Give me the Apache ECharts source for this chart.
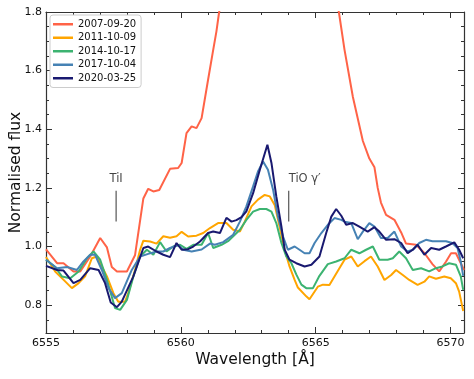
<!DOCTYPE html>
<html><head><meta charset="utf-8">
<script src="https://cdn.jsdelivr.net/npm/echarts@6/dist/echarts.min.js"></script>
<style>html,body{margin:0;padding:0;background:#fff}#c{width:474px;height:379px}</style>
</head><body><div id="c"></div>
<script>
const seriesNames = ['2007-09-20', '2011-10-09', '2014-10-17', '2017-10-04', '2020-03-25'];
const seriesColors = ['#FF6347', '#FFA500', '#3CB371', '#4682B4', '#191970'];

const wl2007 = [6555.00, 6555.41, 6555.65, 6556.02, 6556.27, 6556.64, 6557.01, 6557.26, 6557.44, 6557.63, 6558.00, 6558.30, 6558.61, 6558.79, 6558.98, 6559.20, 6559.60, 6559.90, 6560.03, 6560.21, 6560.40, 6560.58, 6560.77, 6561.01, 6561.20, 6561.32, 6561.42, 6561.8, 6562.5, 6563.2, 6564.0, 6564.8, 6565.5, 6565.86, 6566.07, 6566.38, 6566.75, 6566.99, 6567.18, 6567.30, 6567.42, 6567.61, 6567.92, 6568.17, 6568.35, 6568.72, 6569.03, 6569.33, 6569.58, 6569.83, 6570.02, 6570.20, 6570.44, 6570.5];
const fx2007 = [0.99, 0.943, 0.943, 0.915, 0.915, 0.966, 1.029, 0.997, 0.93, 0.915, 0.915, 0.97, 1.164, 1.197, 1.188, 1.193, 1.265, 1.268, 1.285, 1.387, 1.41, 1.404, 1.438, 1.569, 1.671, 1.734, 1.80, 1.95, 2.15, 2.3, 2.25, 2.1, 1.92, 1.80, 1.671, 1.51, 1.36, 1.30, 1.27, 1.20, 1.15, 1.108, 1.091, 1.048, 1.01, 1.006, 0.978, 0.94, 0.915, 0.948, 0.977, 0.977, 0.932, 0.92];

const wl2011 = [6555.00, 6555.34, 6555.71, 6555.96, 6556.21, 6556.45, 6556.70, 6556.89, 6557.07, 6557.26, 6557.50, 6557.68, 6557.93, 6558.05, 6558.30, 6558.49, 6558.61, 6558.86, 6559.10, 6559.35, 6559.60, 6559.84, 6560.03, 6560.27, 6560.58, 6560.83, 6561.08, 6561.38, 6561.69, 6561.94, 6562.19, 6562.37, 6562.62, 6562.86, 6563.11, 6563.30, 6563.48, 6563.66, 6563.85, 6564.03, 6564.22, 6564.34, 6564.65, 6564.77, 6565.08, 6565.27, 6565.51, 6565.88, 6566.07, 6566.32, 6566.56, 6566.81, 6567.05, 6567.30, 6567.55, 6567.80, 6567.98, 6568.23, 6568.47, 6568.78, 6569.03, 6569.21, 6569.46, 6569.77, 6570.01, 6570.20, 6570.32, 6570.47];
const fx2011 = [0.964, 0.915, 0.881, 0.858, 0.875, 0.898, 0.96, 0.966, 0.932, 0.898, 0.841, 0.812, 0.812, 0.841, 0.92, 0.989, 1.02, 1.017, 1.01, 1.035, 1.03, 1.035, 1.05, 1.034, 1.037, 1.046, 1.063, 1.08, 1.08, 1.057, 1.051, 1.085, 1.137, 1.16, 1.176, 1.171, 1.142, 1.068, 0.989, 0.932, 0.886, 0.86, 0.83, 0.82, 0.863, 0.87, 0.869, 0.926, 0.955, 0.966, 0.932, 0.95, 0.966, 0.932, 0.886, 0.903, 0.92, 0.903, 0.886, 0.869, 0.88, 0.898, 0.89, 0.898, 0.892, 0.875, 0.846, 0.78];

const wl2014 = [6555.00, 6555.34, 6555.59, 6555.90, 6556.21, 6556.52, 6556.76, 6557.01, 6557.26, 6557.56, 6557.75, 6558.00, 6558.24, 6558.49, 6558.74, 6558.98, 6559.23, 6559.47, 6559.72, 6559.97, 6560.21, 6560.46, 6560.77, 6561.01, 6561.20, 6561.51, 6561.75, 6562.00, 6562.19, 6562.43, 6562.68, 6562.93, 6563.17, 6563.36, 6563.54, 6563.73, 6563.91, 6564.10, 6564.28, 6564.47, 6564.65, 6564.90, 6565.14, 6565.45, 6565.76, 6566.07, 6566.32, 6566.62, 6566.87, 6567.12, 6567.36, 6567.67, 6567.86, 6568.10, 6568.35, 6568.60, 6568.91, 6569.21, 6569.46, 6569.70, 6569.95, 6570.20, 6570.38, 6570.47];
const fx2014 = [0.955, 0.93, 0.898, 0.892, 0.915, 0.96, 0.983, 0.955, 0.886, 0.79, 0.784, 0.818, 0.898, 0.966, 0.989, 0.972, 1.015, 0.983, 1.0, 1.006, 0.992, 1.006, 1.006, 1.046, 0.995, 1.006, 1.018, 1.04, 1.057, 1.091, 1.119, 1.128, 1.128, 1.119, 1.08, 1.012, 0.966, 0.943, 0.905, 0.87, 0.858, 0.858, 0.9, 0.94, 0.949, 0.96, 0.989, 0.977, 0.989, 1.0, 0.955, 0.955, 0.96, 0.983, 0.96, 0.92, 0.926, 0.915, 0.926, 0.932, 0.943, 0.938, 0.898, 0.852];

const wl2017 = [6555.00, 6555.41, 6555.78, 6556.15, 6556.39, 6556.64, 6556.82, 6557.07, 6557.32, 6557.56, 6557.81, 6558.18, 6558.49, 6558.79, 6559.10, 6559.35, 6559.60, 6559.90, 6560.09, 6560.40, 6560.77, 6561.08, 6561.26, 6561.57, 6561.94, 6562.19, 6562.43, 6562.68, 6562.86, 6563.05, 6563.23, 6563.42, 6563.60, 6563.79, 6563.97, 6564.22, 6564.40, 6564.59, 6564.77, 6564.96, 6565.21, 6565.45, 6565.70, 6565.95, 6566.07, 6566.32, 6566.56, 6566.75, 6566.99, 6567.18, 6567.42, 6567.67, 6567.92, 6568.17, 6568.41, 6568.60, 6568.84, 6569.09, 6569.33, 6569.58, 6569.83, 6570.07, 6570.26, 6570.38, 6570.47];
const fx2017 = [0.955, 0.926, 0.93, 0.92, 0.949, 0.972, 0.972, 0.92, 0.858, 0.824, 0.841, 0.92, 0.966, 0.975, 0.983, 0.983, 0.995, 1.005, 0.989, 0.983, 0.99, 1.01, 1.006, 1.015, 1.04, 1.085, 1.137, 1.205, 1.256, 1.29, 1.262, 1.194, 1.102, 1.034, 0.989, 1.0, 0.989, 0.977, 0.977, 1.012, 1.046, 1.074, 1.097, 1.091, 1.085, 1.08, 1.025, 1.051, 1.08, 1.068, 1.029, 1.029, 1.051, 1.0, 0.983, 0.989, 1.012, 1.023, 1.018, 1.018, 1.018, 1.012, 0.995, 0.949, 0.90];

const wl2020 = [6555.00, 6555.41, 6555.65, 6556.02, 6556.27, 6556.64, 6556.95, 6557.19, 6557.40, 6557.63, 6557.81, 6558.24, 6558.61, 6558.79, 6559.10, 6559.35, 6559.60, 6559.84, 6560.03, 6560.27, 6560.46, 6560.71, 6561.01, 6561.20, 6561.45, 6561.69, 6561.88, 6562.06, 6562.25, 6562.43, 6562.68, 6562.93, 6563.21, 6563.36, 6563.54, 6563.73, 6563.85, 6564.03, 6564.28, 6564.59, 6564.84, 6565.14, 6565.39, 6565.58, 6565.76, 6565.95, 6566.13, 6566.38, 6566.62, 6566.93, 6567.18, 6567.36, 6567.61, 6567.92, 6568.17, 6568.41, 6568.60, 6568.78, 6569.03, 6569.28, 6569.58, 6569.83, 6570.14, 6570.32, 6570.47];
const fx2020 = [0.934, 0.92, 0.918, 0.875, 0.886, 0.926, 0.92, 0.875, 0.809, 0.793, 0.812, 0.898, 0.995, 1.0, 0.983, 0.972, 0.964, 1.012, 0.989, 0.991, 1.0, 1.017, 1.046, 1.051, 1.046, 1.098, 1.085, 1.09, 1.10, 1.12, 1.182, 1.262, 1.347, 1.285, 1.171, 1.068, 0.989, 0.955, 0.943, 0.932, 0.938, 0.966, 1.046, 1.102, 1.128, 1.105, 1.074, 1.08, 1.068, 1.051, 1.066, 1.051, 1.023, 1.025, 1.012, 0.977, 0.989, 1.006, 0.972, 0.995, 0.989, 1.0, 1.014, 0.989, 0.96];

const xMajorTicks = [6555, 6560, 6565, 6570];
const xMinorTicks = [6556, 6557, 6558, 6559, 6561, 6562, 6563, 6564, 6566, 6567, 6568, 6569, 6570];
const yMajorTicks = [0.8, 1.0, 1.2, 1.4, 1.6, 1.8];
const yMinorTicks = [0.75, 0.85, 0.9, 0.95, 1.05, 1.1, 1.15, 1.25, 1.3, 1.35, 1.45, 1.5, 1.55, 1.65, 1.7, 1.75];

const annoLabels = ['TiI', 'TiO γ′'];
const annoWl = [6557.6, 6564.0];
const annoLineFlux = [1.085, 1.19];
const annoTextFlux = [1.231, 1.231];

const wlList = [wl2007, wl2011, wl2014, wl2017, wl2020];
const fxList = [fx2007, fx2011, fx2014, fx2017, fx2020];

const FONT = 'DejaVu Sans';
const X_MIN = 6555, X_MAX = 6570.5, Y_MIN = 0.705, Y_MAX = 1.8;
const G = { left: 46, right: 10, top: 12, bottom: 46 };
const MAJ = 6, MIN_LEN = 3;
const lineSt = { color: '#333', width: 1.2 };
const NAME_ST = { fontFamily: FONT, fontSize: 15.5, color: '#111' };

function gridBox(l, r, t, b) {
  return { left: l, right: r, top: t, bottom: b, show: false, containLabel: false, outerBoundsMode: 'none' };
}
// grids: 0 main; 1/2 inset horizontally (y ticks); 3/4 inset vertically (x ticks)
const grids = [
  gridBox(G.left, G.right, G.top, G.bottom),
  gridBox(G.left + MAJ, G.right + MAJ, G.top, G.bottom),
  gridBox(G.left + MIN_LEN, G.right + MIN_LEN, G.top, G.bottom),
  gridBox(G.left, G.right, G.top + MAJ, G.bottom + MAJ),
  gridBox(G.left, G.right, G.top + MIN_LEN, G.bottom + MIN_LEN)
];

function frameAxis(kind, pos, labels) {
  const isX = kind === 'x';
  const ax = {
    gridIndex: 0, type: 'value', min: isX ? X_MIN : Y_MIN, max: isX ? X_MAX : Y_MAX, position: pos,
    axisLine: { show: true, lineStyle: lineSt }, splitLine: { show: false },
    axisTick: { show: false }, axisLabel: { show: false }
  };
  if (labels) {
    ax.axisLabel = {
      show: true, customValues: isX ? xMajorTicks : yMajorTicks, fontFamily: FONT, fontSize: 11, color: '#111',
      margin: isX ? 5 : 4, formatter: v => (isX ? String(v) : v.toFixed(1))
    };
    ax.name = isX ? 'Wavelength [Å]' : 'Normalised flux';
    ax.nameLocation = 'middle';
    ax.nameGap = isX ? 19 : 22;
    ax.nameMoveOverlap = false;
    if (!isX) ax.nameRotate = 90;
    ax.nameTextStyle = NAME_ST;
  }
  return ax;
}
// tick axis living on an inset grid: its outward ticks reach exactly back to the frame, i.e. they look like inside ticks
function tickAxis(kind, gridIndex, pos, ticks, len) {
  const isX = kind === 'x';
  return {
    gridIndex: gridIndex, type: 'value', min: isX ? X_MIN : Y_MIN, max: isX ? X_MAX : Y_MAX, position: pos,
    axisLine: { show: true, lineStyle: { color: 'rgba(0,0,0,0)', width: 0.5 } }, splitLine: { show: false },
    axisLabel: { show: true, customValues: ticks, color: 'rgba(0,0,0,0)', fontSize: 6, margin: 1 },
    axisTick: { show: true, inside: false, length: len, customValues: ticks, lineStyle: { color: '#333', width: 1 } }
  };
}
function hiddenAxis(gridIndex) {
  return { gridIndex: gridIndex, type: 'value', min: 0, max: 1, show: false };
}

const xAxes = [
  frameAxis('x', 'bottom', true),          // 0
  frameAxis('x', 'top', false),            // 1
  hiddenAxis(1),                           // 2
  hiddenAxis(2),                           // 3
  tickAxis('x', 3, 'bottom', xMajorTicks, MAJ),   // 4
  tickAxis('x', 3, 'top', xMajorTicks, MAJ),      // 5
  tickAxis('x', 4, 'bottom', xMinorTicks, MIN_LEN), // 6
  tickAxis('x', 4, 'top', xMinorTicks, MIN_LEN)     // 7
];
const yAxes = [
  frameAxis('y', 'left', true),            // 0
  frameAxis('y', 'right', false),          // 1
  tickAxis('y', 1, 'left', yMajorTicks, MAJ),     // 2
  tickAxis('y', 1, 'right', yMajorTicks, MAJ),    // 3
  tickAxis('y', 2, 'left', yMinorTicks, MIN_LEN), // 4
  tickAxis('y', 2, 'right', yMinorTicks, MIN_LEN),// 5
  hiddenAxis(3),                           // 6
  hiddenAxis(4)                            // 7
];

const series = seriesNames.map((n, i) => ({
  name: n, type: 'line', xAxisIndex: 0, yAxisIndex: 0,
  data: wlList[i].map((w, k) => [w, fxList[i][k]]),
  symbol: 'none', showSymbol: false, clip: true,
  lineStyle: { width: 2, color: seriesColors[i] }, itemStyle: { color: seriesColors[i] },
  z: 3 + i, animation: false
}));
annoWl.forEach((w, i) => {
  series.push({
    name: 'anno' + i, type: 'line', symbol: 'none', silent: true, animation: false,
    xAxisIndex: 0, yAxisIndex: 0,
    data: [[w, annoLineFlux[0]], [w, annoLineFlux[1]]],
    lineStyle: { width: 1.2, color: '#555' }, z: 2
  });
  series.push({
    name: 'annoText' + i, type: 'scatter', symbolSize: 0, silent: true, animation: false,
    xAxisIndex: 0, yAxisIndex: 0,
    data: [[w, annoTextFlux[i]]],
    label: {
      show: true, formatter: annoLabels[i], position: i === 0 ? 'inside' : 'right', distance: 0,
      fontFamily: FONT, fontSize: 11.5, color: '#111'
    }
  });
});

const chart = echarts.init(document.getElementById('c'), null, { renderer: 'canvas' });
chart.setOption({
  animation: false,
  backgroundColor: '#fff',
  grid: grids,
  legend: {
    data: seriesNames, left: 50, top: 15, orient: 'vertical', icon: 'rect',
    itemWidth: 20, itemHeight: 2.5, itemGap: 3, padding: [4, 5, 4, 3],
    textStyle: { fontFamily: FONT, fontSize: 10, color: '#111', lineHeight: 10.5 },
    borderColor: '#ccc', borderWidth: 1, borderRadius: 3, backgroundColor: '#fff'
  },
  xAxis: xAxes,
  yAxis: yAxes,
  series: series
});
</script>
</body></html>
